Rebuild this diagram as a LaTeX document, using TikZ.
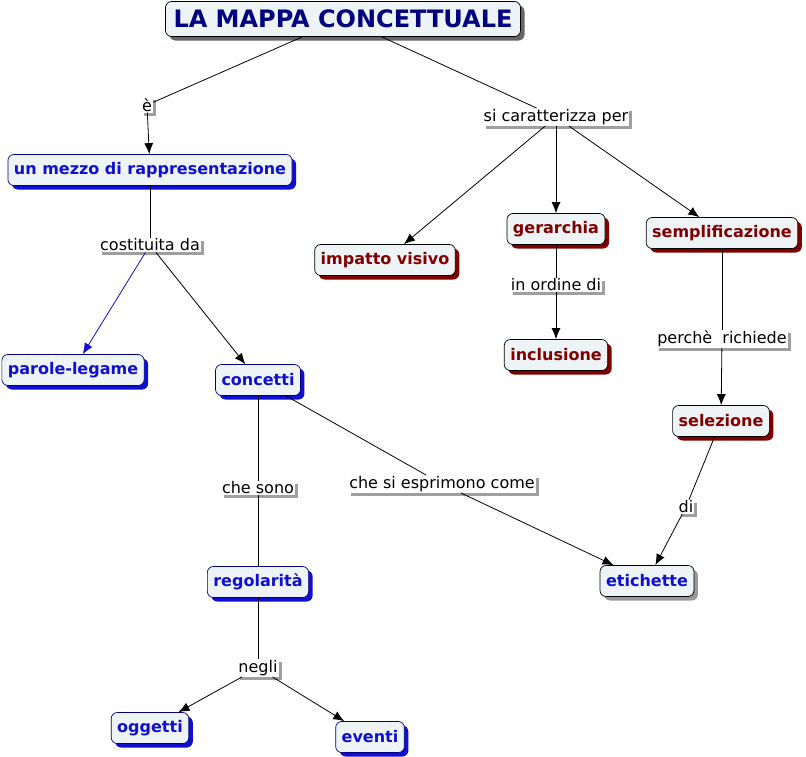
\documentclass[tikz,border=0pt]{standalone}
\usepackage{fontspec}
\setmainfont{DejaVu Sans}
\usetikzlibrary{positioning,arrows.meta,shadows}
\definecolor{cblue}{HTML}{0F0FD2}
\definecolor{cred}{HTML}{800000}
\definecolor{cnavy}{HTML}{000080}
\definecolor{cfill}{HTML}{EEF3F6}
\tikzset{every node/.style={font=\fontsize{16}{18}\selectfont}}

\begin{document}
\begin{tikzpicture}[
    x=1pt, y=-1pt,
    >={Latex[length=11pt,width=9pt]},
    concept/.style={rectangle, rounded corners=6pt, draw, fill=cfill, line width=0.7pt,
        font=\fontsize{16}{18}\selectfont\bfseries, inner xsep=6pt, minimum height=31pt},
    conceptblue/.style={concept, draw=cnavy, text=cblue,
        drop shadow={shadow xshift=4pt, shadow yshift=-4pt, fill=cblue, opacity=1}},
    conceptred/.style={concept, draw=black, text=cred,
        drop shadow={shadow xshift=4pt, shadow yshift=-4pt, fill=cred, opacity=1}},
    conceptgray/.style={concept, draw=black, text=cblue,
        drop shadow={shadow xshift=4pt, shadow yshift=-4pt, fill=gray!80, opacity=1}},
    linkphrase/.style={fill=white, inner xsep=1pt, inner ysep=1pt,
        drop shadow={shadow xshift=3pt, shadow yshift=-3pt, fill=gray!75, opacity=1}},
    conn/.style={draw, line width=0.8pt}
]
\useasboundingbox (0,0) rectangle (806,756);

% concetti
\node (title) [concept, draw=black, text=cnavy, font=\fontsize{24}{26}\selectfont\bfseries,
    minimum height=35pt, inner xsep=8pt,
    drop shadow={shadow xshift=4pt, shadow yshift=-4pt, fill=black!60, opacity=1}] at (343,19) {LA MAPPA CONCETTUALE};

\node (mezzo) [conceptblue] at (150,170) {un mezzo di rappresentazione};
\node (parole) [conceptblue] at (73,370) {parole-legame};
\node (concetti) [conceptblue] at (258,380) {concetti};
\node (regolarita) [conceptblue] at (258,582) {regolarità};
\node (oggetti) [conceptblue] at (150,728) {oggetti};
\node (eventi) [conceptblue] at (370,737) {eventi};
\node (etichette) [conceptgray] at (647,581) {etichette};

\node (impatto) [conceptred] at (385,260) {impatto visivo};
\node (gerarchia) [conceptred] at (556,229) {gerarchia};
\node (sempl) [conceptred] at (722,233) {semplificazione};
\node (inclusione) [conceptred] at (556,355) {inclusione};
\node (selezione) [conceptred] at (721,421) {selezione};

% parole-legame
\node (e) [linkphrase] at (147,105) {è};
\node (caratt) [linkphrase] at (556,117) {si caratterizza per};
\node (costituita) [linkphrase] at (150,245) {costituita da};
\node (chesono) [linkphrase] at (258,488) {che sono};
\node (esprimono) [linkphrase] at (442,484) {che si esprimono come};
\node (negli) [linkphrase] at (258,668) {negli};
\node (ordine) [linkphrase] at (556,285) {in ordine di};
\node (perche) [linkphrase] at (722,339) {perchè\ \ richiede};
\node (di) [linkphrase] at (686,507) {di};

\draw[conn] (title) -- (e);
\draw[conn, ->] (e) -- (mezzo);
\draw[conn] (title) -- (caratt);
\draw[conn, ->] (caratt) -- (impatto);
\draw[conn, ->] (caratt) -- (gerarchia);
\draw[conn, ->] (caratt) -- (sempl);

\draw[conn] (mezzo) -- (costituita);
\draw[conn, cblue, ->] (costituita) -- (parole);
\draw[conn, ->] (costituita) -- (concetti);

\draw[conn] (concetti) -- (chesono);
\draw[conn] (chesono) -- (regolarita);
\draw[conn] (concetti) -- (esprimono);
\draw[conn, ->] (esprimono) -- (etichette);

\draw[conn] (regolarita) -- (negli);
\draw[conn, ->] (negli) -- (oggetti);
\draw[conn, ->] (negli) -- (eventi);

\draw[conn] (gerarchia) -- (ordine);
\draw[conn, ->] (ordine) -- (inclusione);
\draw[conn] (sempl) -- (perche);
\draw[conn, ->] (perche) -- (selezione);
\draw[conn] (selezione) -- (di);
\draw[conn, ->] (di) -- (etichette);

\end{tikzpicture}
\end{document}
